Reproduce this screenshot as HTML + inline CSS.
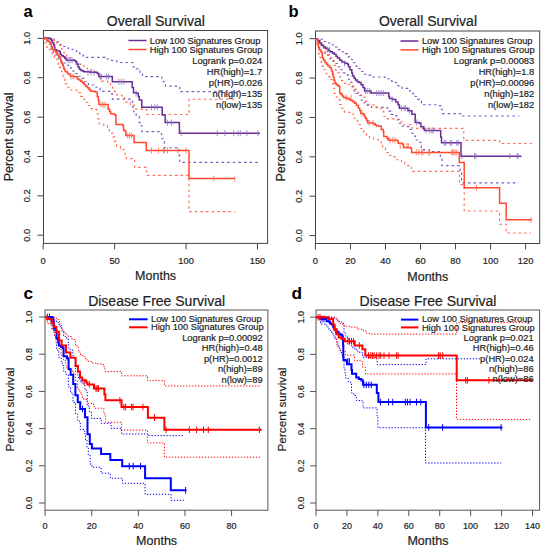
<!DOCTYPE html>
<html><head><meta charset="utf-8"><style>
html,body{margin:0;padding:0;background:#fff;}
svg{display:block;font-family:"Liberation Sans", sans-serif;}
</style></head><body>
<svg width="545" height="550" viewBox="0 0 545 550">
<rect width="545" height="550" fill="#fff"/>
<rect x="43.5" y="30.5" width="224.10" height="212.90" fill="none" stroke="#444" stroke-width="1"/>
<line x1="37.5" y1="235.20" x2="43.5" y2="235.20" stroke="#444" stroke-width="1"/>
<text transform="translate(29.6,235.20) rotate(-90)" text-anchor="middle" font-size="9.3" fill="#222" stroke="#222" stroke-width="0.2">0.0</text>
<line x1="37.5" y1="195.84" x2="43.5" y2="195.84" stroke="#444" stroke-width="1"/>
<text transform="translate(29.6,195.84) rotate(-90)" text-anchor="middle" font-size="9.3" fill="#222" stroke="#222" stroke-width="0.2">0.2</text>
<line x1="37.5" y1="156.48" x2="43.5" y2="156.48" stroke="#444" stroke-width="1"/>
<text transform="translate(29.6,156.48) rotate(-90)" text-anchor="middle" font-size="9.3" fill="#222" stroke="#222" stroke-width="0.2">0.4</text>
<line x1="37.5" y1="117.12" x2="43.5" y2="117.12" stroke="#444" stroke-width="1"/>
<text transform="translate(29.6,117.12) rotate(-90)" text-anchor="middle" font-size="9.3" fill="#222" stroke="#222" stroke-width="0.2">0.6</text>
<line x1="37.5" y1="77.76" x2="43.5" y2="77.76" stroke="#444" stroke-width="1"/>
<text transform="translate(29.6,77.76) rotate(-90)" text-anchor="middle" font-size="9.3" fill="#222" stroke="#222" stroke-width="0.2">0.8</text>
<line x1="37.5" y1="38.40" x2="43.5" y2="38.40" stroke="#444" stroke-width="1"/>
<text transform="translate(29.6,38.40) rotate(-90)" text-anchor="middle" font-size="9.3" fill="#222" stroke="#222" stroke-width="0.2">1.0</text>
<line x1="43.20" y1="243.4" x2="43.20" y2="249.4" stroke="#444" stroke-width="1"/>
<text x="43.20" y="263.8" text-anchor="middle" font-size="9.3" fill="#222" stroke="#222" stroke-width="0.2">0</text>
<line x1="114.64" y1="243.4" x2="114.64" y2="249.4" stroke="#444" stroke-width="1"/>
<text x="114.64" y="263.8" text-anchor="middle" font-size="9.3" fill="#222" stroke="#222" stroke-width="0.2">50</text>
<line x1="186.07" y1="243.4" x2="186.07" y2="249.4" stroke="#444" stroke-width="1"/>
<text x="186.07" y="263.8" text-anchor="middle" font-size="9.3" fill="#222" stroke="#222" stroke-width="0.2">100</text>
<line x1="257.50" y1="243.4" x2="257.50" y2="249.4" stroke="#444" stroke-width="1"/>
<text x="257.50" y="263.8" text-anchor="middle" font-size="9.3" fill="#222" stroke="#222" stroke-width="0.2">150</text>
<text transform="translate(13.2,136.9) rotate(-90)" text-anchor="middle" font-size="12.5" fill="#222" stroke="#222" stroke-width="0.2">Percent survival</text>
<text x="155.6" y="280.3" text-anchor="middle" font-size="12.5" fill="#222" stroke="#222" stroke-width="0.2">Months</text>
<text x="155.8" y="25.8" text-anchor="middle" font-size="14.0" fill="#222" stroke="#222" stroke-width="0.2">Overall Survival</text>
<text x="23.6" y="17.4" font-size="16.5" font-weight="bold" fill="#000">a</text>
<path d="M43.2 38.4H50.0V38.9H52.0V39.4H54.3V40.5H56.0V41.8H58.2V43.2H60.0V44.8H62.0V46.5H65.0V48.0H68.6V49.3H73.0V49.8H76.3V51.5H78.0V52.6H79.6V53.7H81.0V54.8H82.9V55.9H86.2V57.4H105.0V59.0H111.7V60.5H116.8V62.5H132.9V67.0H134.5V68.0H136.1V68.9H138.0V70.8H140.0V72.8H142.5V76.6H161.8V78.5H163.2V81.7H165.4V86.1H179.7V91.6H242.0" fill="none" stroke="#7d55c0" stroke-width="1.1" stroke-dasharray="2.5 3.1"/>
<path d="M43.2 38.4H45.0V40.0H47.0V41.5H48.8V43.2H50.0V45.5H51.0V48.2H52.0V50.5H53.2V53.1H56.0V56.4H58.7V58.6H60.5V61.0H62.0V63.0H65.3V65.2H68.6V67.4H71.0V69.5H73.0V71.3H75.8V73.5H77.4V76.2H80.7V78.4H84.0V81.7H86.0V83.5H88.4V85.0H95.0V87.2H98.5V88.0H100.1V91.4H110.4V92.7H111.7V93.9H112.3V99.1H132.2V102.1H132.8V107.2H133.5V111.7H136.0V114.9H139.3V117.5H139.3V122.6H141.2V125.8H141.8V131.6H159.9V131.6H161.2V133.5H161.7V138.8H164.3V142.5H164.3V147.7H179.1V155.4H179.7V162.4H259.0" fill="none" stroke="#7d55c0" stroke-width="1.1" stroke-dasharray="2.5 3.1"/>
<path d="M43.2 38.4H52.1V38.8H54.0V40.5H56.5V42.7H58.0V44.0H59.8V45.4H61.0V48.5H62.0V52.0H64.2V53.7H66.4V55.9H68.5V57.8H70.8V59.7H74.1V61.9H77.4V64.1H80.7V65.8H84.0V68.0H87.3V69.6H91.2V71.3H95.0V72.9H98.3V75.1H100.0V78.0H101.4V81.1H107.8V82.4H110.4V85.0H112.5V88.0H114.3V91.4H116.8V95.2H122.0V96.5H124.5V100.4H125.8V102.1H130.3V104.6H134.1V109.1H145.7V109.8H147.0V114.5H189.0V99.2H234.8" fill="none" stroke="#ff6a50" stroke-width="1.1" stroke-dasharray="2.5 3.1"/>
<path d="M43.2 38.4H44.0V43.0H46.6V47.1H49.4V49.8H50.8V52.5H52.1V55.3H54.3V58.6H57.1V61.9H58.2V64.5H59.3V67.4H60.5V69.5H61.5V71.8H63.1V77.3H64.8V83.9H67.0V87.2H69.7V90.0H76.7V92.6H80.5V96.4H83.0V99.3H85.7V102.2H88.0V105.5H90.8V108.6H96.0V109.9H97.2V113.8H97.9V118.9H99.2V124.0H103.7V125.3H107.5V128.5H109.4V133.0H112.7V136.9H114.6V141.4H116.5V146.5H120.4V148.4H122.9V149.7H124.9V154.2H126.4V158.6H134.7V167.4H146.8V175.4H189.0V211.6H234.8" fill="none" stroke="#ff6a50" stroke-width="1.1" stroke-dasharray="2.5 3.1"/>
<path d="M43.2 38.4H44.2V37.9H49.3V38.8H51.5V40.6H52.3V42.8H53.7V45.0H54.5V47.6H54.8V49.8H56.7V50.9H59.6V52.0H60.3V54.2H61.4V55.7H63.3V56.8H64.8V58.2H66.2V60.2H74.3V60.5H75.4V61.5H76.5V64.1H78.0V67.0H79.4V69.2H81.0V70.5H83.0V71.2H84.0V71.8H90.0V72.3H97.0V72.9H97.6V73.4H98.9V76.6H112.3V81.7H132.2V87.5H133.5V92.7H136.7V93.3H138.3V96.5H139.3V100.1H141.8V101.4H141.8V107.2H162.2V114.9H165.2V122.6H179.4V133.2H260.0" fill="none" stroke="#6a2f96" stroke-width="1.5"/>
<path d="M100.1 73.6V79.6M101.4 73.6V79.6M106.6 73.6V79.6M108.5 73.6V79.6M118.8 78.7V84.7M121.3 78.7V84.7M123.9 78.7V84.7M136.1 90.3V96.3M151.5 104.2V110.2M154.7 104.2V110.2M157.2 104.2V110.2M167.5 119.6V125.6M171.4 119.6V125.6M181.2 130.2V136.2M217.2 130.2V136.2M224.9 130.2V136.2M233.7 130.2V136.2M238.0 130.2V136.2M240.3 130.2V136.2M246.9 130.2V136.2M257.9 130.2V136.2M68.0 57.3V63.3M70.0 57.3V63.3M72.0 57.3V63.3M88.0 69.5V75.5M91.0 69.5V75.5M94.0 69.5V75.5" fill="none" stroke="#8a6cc8" stroke-width="0.8"/>
<path d="M43.2 38.4H46.4V39.9H47.9V41.3H49.3V42.1H50.4V44.3H51.5V46.8H52.3V49.4H54.1V50.5H55.6V52.0H56.7V53.4H57.8V54.9H58.9V56.8H60.0V58.6H60.7V60.8H61.4V63.0H62.6V64.8H63.3V67.0H64.0V69.2H65.1V71.4H67.0V72.2H67.7V74.0H70.3V76.2H74.1V76.8H77.4V79.0H79.0V80.0H80.7V81.2H82.3V82.8H84.0V84.5H85.6V86.2H87.3V87.8H89.0V89.5H90.6V91.3H95.0V91.9H97.2V96.4H98.3V100.0H98.9V104.5H108.2V109.3H109.5V111.5H110.7V113.8H114.6V115.0H115.9V124.5H122.9V125.5H123.5V129.7H124.5V131.0H125.8V135.5H134.1V142.5H146.3V150.4H189.0V178.6H234.8" fill="none" stroke="#ff4a30" stroke-width="1.5"/>
<path d="M127.7 132.5V138.5M129.6 132.5V138.5M131.6 132.5V138.5M151.5 147.4V153.4M158.5 147.4V153.4M163.7 147.4V153.4M164.3 147.4V153.4M167.5 147.4V153.4M177.8 147.4V153.4M186.1 147.4V153.4M213.8 175.6V181.6M234.8 175.6V181.6M71.0 73.5V79.5M73.0 73.5V79.5M101.0 101.6V107.6M103.0 101.6V107.6M105.0 101.6V107.6" fill="none" stroke="#ff6a50" stroke-width="0.8"/>
<line x1="128.4" y1="40.5" x2="146.5" y2="40.5" stroke="#6a2f96" stroke-width="1.5"/>
<text x="149.8" y="43.8" font-size="9.3" fill="#222" stroke="#222" stroke-width="0.2">Low 100 Signatures Group</text>
<line x1="128.4" y1="49.5" x2="146.5" y2="49.5" stroke="#ff4a30" stroke-width="1.5"/>
<text x="149.8" y="52.7" font-size="9.3" fill="#222" stroke="#222" stroke-width="0.2">High 100 Signatures Group</text>
<text x="262.3" y="63.8" text-anchor="end" font-size="9.3" fill="#222" stroke="#222" stroke-width="0.2">Logrank p=0.024</text>
<text x="262.3" y="74.8" text-anchor="end" font-size="9.3" fill="#222" stroke="#222" stroke-width="0.2">HR(high)=1.7</text>
<text x="262.3" y="86" text-anchor="end" font-size="9.3" fill="#222" stroke="#222" stroke-width="0.2">p(HR)=0.026</text>
<text x="262.3" y="97" text-anchor="end" font-size="9.3" fill="#222" stroke="#222" stroke-width="0.2">n(high)=135</text>
<text x="262.3" y="107.9" text-anchor="end" font-size="9.3" fill="#222" stroke="#222" stroke-width="0.2">n(low)=135</text>
<rect x="315.5" y="31.0" width="224.20" height="212.50" fill="none" stroke="#444" stroke-width="1"/>
<line x1="309.5" y1="235.60" x2="315.5" y2="235.60" stroke="#444" stroke-width="1"/>
<text transform="translate(301.8,235.60) rotate(-90)" text-anchor="middle" font-size="9.3" fill="#222" stroke="#222" stroke-width="0.2">0.0</text>
<line x1="309.5" y1="196.22" x2="315.5" y2="196.22" stroke="#444" stroke-width="1"/>
<text transform="translate(301.8,196.22) rotate(-90)" text-anchor="middle" font-size="9.3" fill="#222" stroke="#222" stroke-width="0.2">0.2</text>
<line x1="309.5" y1="156.84" x2="315.5" y2="156.84" stroke="#444" stroke-width="1"/>
<text transform="translate(301.8,156.84) rotate(-90)" text-anchor="middle" font-size="9.3" fill="#222" stroke="#222" stroke-width="0.2">0.4</text>
<line x1="309.5" y1="117.46" x2="315.5" y2="117.46" stroke="#444" stroke-width="1"/>
<text transform="translate(301.8,117.46) rotate(-90)" text-anchor="middle" font-size="9.3" fill="#222" stroke="#222" stroke-width="0.2">0.6</text>
<line x1="309.5" y1="78.08" x2="315.5" y2="78.08" stroke="#444" stroke-width="1"/>
<text transform="translate(301.8,78.08) rotate(-90)" text-anchor="middle" font-size="9.3" fill="#222" stroke="#222" stroke-width="0.2">0.8</text>
<line x1="309.5" y1="38.70" x2="315.5" y2="38.70" stroke="#444" stroke-width="1"/>
<text transform="translate(301.8,38.70) rotate(-90)" text-anchor="middle" font-size="9.3" fill="#222" stroke="#222" stroke-width="0.2">1.0</text>
<line x1="315.40" y1="243.5" x2="315.40" y2="249.5" stroke="#444" stroke-width="1"/>
<text x="315.40" y="264.0" text-anchor="middle" font-size="9.3" fill="#222" stroke="#222" stroke-width="0.2">0</text>
<line x1="350.43" y1="243.5" x2="350.43" y2="249.5" stroke="#444" stroke-width="1"/>
<text x="350.43" y="264.0" text-anchor="middle" font-size="9.3" fill="#222" stroke="#222" stroke-width="0.2">20</text>
<line x1="385.47" y1="243.5" x2="385.47" y2="249.5" stroke="#444" stroke-width="1"/>
<text x="385.47" y="264.0" text-anchor="middle" font-size="9.3" fill="#222" stroke="#222" stroke-width="0.2">40</text>
<line x1="420.50" y1="243.5" x2="420.50" y2="249.5" stroke="#444" stroke-width="1"/>
<text x="420.50" y="264.0" text-anchor="middle" font-size="9.3" fill="#222" stroke="#222" stroke-width="0.2">60</text>
<line x1="455.54" y1="243.5" x2="455.54" y2="249.5" stroke="#444" stroke-width="1"/>
<text x="455.54" y="264.0" text-anchor="middle" font-size="9.3" fill="#222" stroke="#222" stroke-width="0.2">80</text>
<line x1="490.57" y1="243.5" x2="490.57" y2="249.5" stroke="#444" stroke-width="1"/>
<text x="490.57" y="264.0" text-anchor="middle" font-size="9.3" fill="#222" stroke="#222" stroke-width="0.2">100</text>
<line x1="525.60" y1="243.5" x2="525.60" y2="249.5" stroke="#444" stroke-width="1"/>
<text x="525.60" y="264.0" text-anchor="middle" font-size="9.3" fill="#222" stroke="#222" stroke-width="0.2">120</text>
<text transform="translate(285.4,137.1) rotate(-90)" text-anchor="middle" font-size="12.5" fill="#222" stroke="#222" stroke-width="0.2">Percent survival</text>
<text x="427.8" y="280.5" text-anchor="middle" font-size="12.5" fill="#222" stroke="#222" stroke-width="0.2">Months</text>
<text x="428.0" y="26.0" text-anchor="middle" font-size="14.0" fill="#222" stroke="#222" stroke-width="0.2">Overall Survival</text>
<text x="288.5" y="17.4" font-size="16.5" font-weight="bold" fill="#000">b</text>
<path d="M315.4 38.7H321.0V39.3H324.3V41.5H328.7V43.0H332.0V44.8H335.3V47.0H338.2V49.6H341.5V51.8H345.6V53.6H348.1V56.9H351.4V59.5H353.3V62.8H356.1V66.4H358.9V68.7H361.6V71.5H364.4V74.2H368.9V75.1H372.6V77.0H385.3V77.5H387.8V78.8H391.7V81.4H395.5V82.7H398.1V85.9H402.0V88.4H409.7V91.0H412.9V93.6H415.2V96.5H417.8V99.4H419.4V101.1H421.5V103.0H423.8V104.8H438.5V105.6H441.4V109.2H442.2V113.6H462.0V116.0H519.3" fill="none" stroke="#7d55c0" stroke-width="1.1" stroke-dasharray="2.5 3.1"/>
<path d="M315.4 38.7H316.5V40.5H318.5V42.0H320.2V43.3H322.1V47.0H324.3V53.2H327.2V54.7H329.4V58.8H331.5V60.5H333.8V61.7H336.0V63.5H338.2V66.8H340.8V69.8H343.3V72.9H347.4V75.1H348.5V79.5H351.0V82.5H352.1V86.9H354.0V90.9H356.2V93.5H359.7V95.5H361.2V100.3H363.8V102.8H367.4V105.4H371.5V107.4H387.0V108.2H388.8V111.1H391.0V114.4H395.8V115.9H397.6V119.2H399.1V123.3H402.0V126.2H407.5V126.6H410.1V129.5H411.9V133.2H414.9V136.4H415.5V140.0H419.4V142.2H421.3V147.4H422.3V149.6H424.6V150.0H429.5V151.6H439.4V152.4H440.3V158.2H441.9V165.6H460.1V173.0H461.6V182.9H518.6" fill="none" stroke="#7d55c0" stroke-width="1.1" stroke-dasharray="2.5 3.1"/>
<path d="M315.4 38.7H318.0V40.5H320.0V42.5H321.3V44.8H323.0V48.0H325.0V51.8H327.6V55.4H330.9V57.7H332.7V61.3H334.2V65.4H335.3V70.1H337.5V72.8H339.7V77.0H341.5V80.6H344.4V83.2H348.5V84.3H351.8V86.1H355.1V89.4H357.9V92.2H360.5V95.1H363.8V97.3H365.6V101.4H367.8V104.3H373.0V105.0H376.6V107.6H380.3V108.7H383.3V111.9H384.0V116.3H387.3V118.9H397.2V120.0H400.9V121.8H403.5V124.7H411.6V128.0H416.7V128.4H463.8V140.4H499.6V143.5H531.8" fill="none" stroke="#ff6a50" stroke-width="1.1" stroke-dasharray="2.5 3.1"/>
<path d="M315.4 38.7H316.0V42.0H317.0V47.0H318.4V53.6H319.9V57.3H321.0V62.0H321.7V66.1H323.5V69.8H326.1V73.7H328.6V76.6H330.8V79.5H332.3V83.6H333.4V88.3H334.5V93.5H336.3V97.2H339.3V99.7H339.7V104.5H341.5V108.2H344.4V112.2H350.0V113.5H352.4V114.2H354.2V118.3H357.2V121.2H359.0V124.5H360.8V128.5H363.5V132.0H366.4V134.9H369.4V137.8H373.8V139.3H378.2V140.8H381.1V143.7H382.6V148.1H385.5V152.5H388.4V155.5H392.8V156.9H396.5V159.8H401.5V162.3H404.8V165.6H410.5V167.2H411.4V171.4H459.6V184.6H464.2V211.0H499.6V224.2H506.2V233.0H531.0" fill="none" stroke="#ff6a50" stroke-width="1.1" stroke-dasharray="2.5 3.1"/>
<path d="M315.4 38.7H317.7V40.4H319.5V43.0H321.3V45.2H323.5V47.0H325.7V48.5H327.6V49.6H328.7V50.7H330.1V51.8H332.3V52.9H334.2V54.3H336.0V56.2H337.5V58.0H339.7V60.2H341.9V62.1H344.8V63.2H347.4V64.3H348.5V66.8H350.0V69.8H351.8V72.9H352.5V75.9H354.0V78.1H355.4V79.9H357.3V81.7H358.9V82.5H361.1V84.8H363.0V87.5H364.5V91.0H371.0V93.1H388.8V96.5H389.5V98.5H392.5V99.5H395.8V102.0H398.0V104.5H399.1V106.0H399.4V108.2H407.9V110.8H411.9V114.3H415.2V122.4H419.4V123.2H420.9V126.8H423.8V129.0H424.5V130.5H440.7V137.1H441.5V142.8H461.0V156.2H521.5" fill="none" stroke="#6a2f96" stroke-width="1.5"/>
<path d="M365.5 88.0V94.0M367.2 88.0V94.0M369.4 88.0V94.0M376.7 90.1V96.1M378.9 90.1V96.1M381.1 90.1V96.1M383.3 90.1V96.1M392.1 96.5V102.5M401.3 105.2V111.2M404.2 105.2V111.2M405.7 105.2V111.2M409.4 107.8V113.8M416.7 119.4V125.4M426.0 127.5V133.5M429.7 127.5V133.5M431.9 127.5V133.5M433.3 127.5V133.5M444.4 139.8V145.8M445.8 139.8V145.8M450.2 139.8V145.8M451.7 139.8V145.8M456.8 139.8V145.8M458.3 139.8V145.8M462.0 153.2V159.2M474.5 153.2V159.2M475.9 153.2V159.2M509.8 153.2V159.2M517.1 153.2V159.2M518.1 153.2V159.2M327.6 46.6V52.6M329.5 46.6V52.6M344.5 60.5V66.5" fill="none" stroke="#8a6cc8" stroke-width="0.8"/>
<path d="M315.4 38.7H315.8V39.0H317.3V41.5H318.0V44.1H318.4V47.0H319.5V50.0H321.0V52.1H322.1V55.1H322.4V58.0H323.5V60.2H325.0V62.4H326.5V64.3H327.9V66.1H329.8V67.6H331.2V69.8H332.0V71.8H332.7V74.4H333.4V77.3H334.1V80.3H334.9V83.2H336.3V84.7H337.8V86.1H339.7V92.8H340.8V94.2H342.2V96.1H343.7V97.5H345.9V98.3H348.1V99.0H350.2V100.3H352.4V101.4H354.6V103.2H356.4V105.4H358.3V108.0H359.7V110.6H360.8V113.5H363.4V114.6H364.5V116.8H365.6V118.6H366.7V120.8H367.8V123.0H373.7V123.8H375.2V124.9H376.6V126.0H379.6V126.3H381.3V129.5H383.3V131.7H383.7V136.4H387.0V138.6H388.4V140.2H397.5V141.0H398.2V143.3H402.7V144.5H403.5V147.4H410.8V148.3H411.6V152.4H459.3V162.4H464.2V187.7H499.6V203.2H506.2V219.8H532.0" fill="none" stroke="#ff4a30" stroke-width="1.5"/>
<path d="M346.6 94.6V100.6M351.0 94.6V100.6M361.9 110.5V116.5M369.3 120.0V126.0M373.0 120.0V126.0M389.9 137.2V143.2M392.8 137.2V143.2M395.0 137.2V143.2M400.2 143.0V149.0M406.8 143.0V149.0M408.3 143.0V149.0M416.3 149.4V155.4M418.8 149.4V155.4M421.6 149.4V155.4M422.9 149.4V155.4M428.9 149.4V155.4M429.5 149.4V155.4M451.7 149.4V155.4M452.7 149.4V155.4M453.9 149.4V155.4M455.1 149.4V155.4M456.8 149.4V155.4M476.5 184.7V190.7M531.0 216.8V222.8" fill="none" stroke="#ff6a50" stroke-width="0.8"/>
<line x1="400.5" y1="41.0" x2="418.4" y2="41.0" stroke="#6a2f96" stroke-width="1.5"/>
<text x="421.9" y="44.2" font-size="9.3" fill="#222" stroke="#222" stroke-width="0.2">Low 100 Signatures Group</text>
<line x1="400.5" y1="49.9" x2="418.4" y2="49.9" stroke="#ff4a30" stroke-width="1.5"/>
<text x="421.9" y="53.0" font-size="9.3" fill="#222" stroke="#222" stroke-width="0.2">High 100 Signatures Group</text>
<text x="534.2" y="64.0" text-anchor="end" font-size="9.3" fill="#222" stroke="#222" stroke-width="0.2">Logrank p=0.00083</text>
<text x="534.2" y="75.0" text-anchor="end" font-size="9.3" fill="#222" stroke="#222" stroke-width="0.2">HR(high)=1.8</text>
<text x="534.2" y="86.2" text-anchor="end" font-size="9.3" fill="#222" stroke="#222" stroke-width="0.2">p(HR)=0.00096</text>
<text x="534.2" y="97.2" text-anchor="end" font-size="9.3" fill="#222" stroke="#222" stroke-width="0.2">n(high)=182</text>
<text x="534.2" y="108.2" text-anchor="end" font-size="9.3" fill="#222" stroke="#222" stroke-width="0.2">n(low)=182</text>
<rect x="45.0" y="310.0" width="222.90" height="200.20" fill="none" stroke="#555" stroke-width="1"/>
<line x1="39.0" y1="503.00" x2="45.0" y2="503.00" stroke="#555" stroke-width="1"/>
<text transform="translate(32.2,503.00) rotate(-90)" text-anchor="middle" font-size="9.0" fill="#1e1e1e" stroke="#1e1e1e" stroke-width="0.2">0.0</text>
<line x1="39.0" y1="465.80" x2="45.0" y2="465.80" stroke="#555" stroke-width="1"/>
<text transform="translate(32.2,465.80) rotate(-90)" text-anchor="middle" font-size="9.0" fill="#1e1e1e" stroke="#1e1e1e" stroke-width="0.2">0.2</text>
<line x1="39.0" y1="428.60" x2="45.0" y2="428.60" stroke="#555" stroke-width="1"/>
<text transform="translate(32.2,428.60) rotate(-90)" text-anchor="middle" font-size="9.0" fill="#1e1e1e" stroke="#1e1e1e" stroke-width="0.2">0.4</text>
<line x1="39.0" y1="391.40" x2="45.0" y2="391.40" stroke="#555" stroke-width="1"/>
<text transform="translate(32.2,391.40) rotate(-90)" text-anchor="middle" font-size="9.0" fill="#1e1e1e" stroke="#1e1e1e" stroke-width="0.2">0.6</text>
<line x1="39.0" y1="354.20" x2="45.0" y2="354.20" stroke="#555" stroke-width="1"/>
<text transform="translate(32.2,354.20) rotate(-90)" text-anchor="middle" font-size="9.0" fill="#1e1e1e" stroke="#1e1e1e" stroke-width="0.2">0.8</text>
<line x1="39.0" y1="317.00" x2="45.0" y2="317.00" stroke="#555" stroke-width="1"/>
<text transform="translate(32.2,317.00) rotate(-90)" text-anchor="middle" font-size="9.0" fill="#1e1e1e" stroke="#1e1e1e" stroke-width="0.2">1.0</text>
<line x1="45.10" y1="510.2" x2="45.10" y2="516.2" stroke="#555" stroke-width="1"/>
<text x="45.10" y="529.3" text-anchor="middle" font-size="9.0" fill="#1e1e1e" stroke="#1e1e1e" stroke-width="0.2">0</text>
<line x1="91.72" y1="510.2" x2="91.72" y2="516.2" stroke="#555" stroke-width="1"/>
<text x="91.72" y="529.3" text-anchor="middle" font-size="9.0" fill="#1e1e1e" stroke="#1e1e1e" stroke-width="0.2">20</text>
<line x1="138.34" y1="510.2" x2="138.34" y2="516.2" stroke="#555" stroke-width="1"/>
<text x="138.34" y="529.3" text-anchor="middle" font-size="9.0" fill="#1e1e1e" stroke="#1e1e1e" stroke-width="0.2">40</text>
<line x1="184.96" y1="510.2" x2="184.96" y2="516.2" stroke="#555" stroke-width="1"/>
<text x="184.96" y="529.3" text-anchor="middle" font-size="9.0" fill="#1e1e1e" stroke="#1e1e1e" stroke-width="0.2">60</text>
<line x1="231.58" y1="510.2" x2="231.58" y2="516.2" stroke="#555" stroke-width="1"/>
<text x="231.58" y="529.3" text-anchor="middle" font-size="9.0" fill="#1e1e1e" stroke="#1e1e1e" stroke-width="0.2">80</text>
<text transform="translate(14.3,409.6) rotate(-90)" text-anchor="middle" font-size="11.8" fill="#1e1e1e" stroke="#1e1e1e" stroke-width="0.2">Percent survival</text>
<text x="156.6" y="544.8" text-anchor="middle" font-size="12.5" fill="#1e1e1e" stroke="#1e1e1e" stroke-width="0.2">Months</text>
<text x="156.6" y="305.8" text-anchor="middle" font-size="14.0" fill="#1e1e1e" stroke="#1e1e1e" stroke-width="0.2">Disease Free Survival</text>
<text x="23.6" y="298.6" font-size="17.3" font-weight="bold" fill="#000">c</text>
<path d="M45.1 317.0H49.7V317.5H52.0V319.0H54.8V320.8H56.5V322.5H58.7V324.7H60.3V327.5H61.9V330.5H62.1V331.8H63.6V336.2H65.4V338.1H68.3V340.6H68.3V343.6H68.7V348.3H70.2V349.8H72.8V353.5H72.8V355.7H74.2V359.4H75.3V368.2H75.4V371.6H77.6V374.5H78.0V377.5H79.8V381.1H82.0V383.3H84.2V385.6H85.0V390.3H86.8V391.4H87.2V399.5H87.2V406.0H89.4V406.4H89.4V411.9H91.3V414.8H91.7V418.5H101.2V423.3H111.0V428.4H121.6V434.0H147.7V435.6H183.0" fill="none" stroke="#0000ff" stroke-width="1" stroke-dasharray="1.3 1.7"/>
<path d="M45.1 317.0H47.5V318.0H50.0V321.0H51.0V324.7H52.3V329.8H53.5V332.5H54.8V335.6H55.5V338.5H56.2V343.2H56.6V349.1H57.7V351.3H58.8V355.3H59.2V358.3H61.4V361.6H62.5V363.4H63.2V366.0H63.7V371.2H65.5V372.3H65.9V374.5H68.4V387.0H70.6V392.9H73.0V402.4H75.5V414.1H77.5V415.0H77.7V420.3H79.5V421.4H80.3V429.5H84.3V431.0H84.7V434.0H85.5V440.0H87.0V448.0H88.3V454.9H90.1V464.0H91.9V467.3H101.1V473.2H110.3V478.3H122.5V483.3H145.1V494.3H171.1V500.3H184.0" fill="none" stroke="#0000ff" stroke-width="1" stroke-dasharray="1.3 1.7"/>
<path d="M45.1 317.0H50.0V317.3H54.8V318.0H56.5V319.5H58.5V321.0H59.5V324.0H61.4V330.0H63.6V331.8H65.4V334.4H67.2V336.2H69.8V336.6H72.0V339.5H75.0V341.0H75.5V345.8H77.5V347.2H78.3V350.6H79.4V352.0H80.5V355.3H82.7V356.4H84.5V358.3H86.7V360.1H88.5V361.6H92.0V363.0H95.9V363.9H102.4V364.5H104.1V368.2H105.0V371.5H121.5V375.8H147.5V380.6H164.6V386.0H261.0" fill="none" stroke="#ff0000" stroke-width="1" stroke-dasharray="1.3 1.7"/>
<path d="M45.1 317.0H46.0V319.0H47.3V323.6H50.6V324.0H52.0V330.0H54.4V334.0H54.4V336.2H57.0V340.3H58.0V344.0H59.2V349.1H61.0V354.2H61.7V355.7H63.2V359.4H65.4V363.0H65.8V366.0H66.9V368.2H70.0V371.0H73.0V373.0H75.0V374.5H75.4V380.4H77.6V383.3H77.6V389.2H79.8V390.3H79.8V392.9H82.0V396.2H82.4V399.1H85.0V399.5H87.2V400.6H87.5V403.3H93.5V405.3H94.2V408.2H103.8V414.1H105.2V414.8H105.6V422.2H121.5V430.1H147.5V442.9H164.4V457.2H260.0" fill="none" stroke="#ff0000" stroke-width="1" stroke-dasharray="1.3 1.7"/>
<path d="M45.1 317.0H52.5V318.5H53.2V322.0H53.8V325.0H54.2V328.5H55.5V330.5H56.6V338.2H58.1V341.7H58.8V345.4H61.0V346.9H62.8V348.3H63.6V356.2H66.9V358.3H68.3V359.4H68.6V369.1H70.6V374.7H73.2V383.9H75.4V395.3H77.8V402.2H80.2V409.0H85.0V417.2H87.5V434.3H89.8V444.0H91.9V448.4H101.1V453.9H110.3V460.0H122.2V466.2H145.1V478.3H170.8V490.3H186.5" fill="none" stroke="#0000ff" stroke-width="2"/>
<path d="M47.3 313.7V320.3M49.5 313.7V320.3M82.5 405.7V412.3M129.2 462.9V469.5M133.2 462.9V469.5M140.6 462.9V469.5M185.6 487.0V493.6" fill="none" stroke="#0000ff" stroke-width="1"/>
<path d="M45.1 317.0H47.3V318.9H51.7V323.1H53.8V327.1H56.3V331.8H59.1V340.4H61.6V345.6H66.0V352.6H70.4V357.7H75.6V366.1H77.9V371.4H80.0V377.6H82.2V380.6H86.3V382.5H87.4V384.4H94.0V388.5H104.4V394.4H105.4V400.3H121.5V407.0H147.9V417.7H164.4V429.8H261.7" fill="none" stroke="#ff0000" stroke-width="2"/>
<path d="M84.2 378.7V385.3M89.4 381.1V387.7M96.0 385.2V391.8M97.1 385.2V391.8M98.5 385.2V391.8M119.9 397.0V403.6M123.9 403.7V410.3M125.6 403.7V410.3M131.4 403.7V410.3M133.0 403.7V410.3M142.9 403.7V410.3M154.5 414.4V421.0M166.0 426.5V433.1M189.4 426.5V433.1M196.6 426.5V433.1M203.5 426.5V433.1M208.3 426.5V433.1M259.4 426.5V433.1" fill="none" stroke="#ff0000" stroke-width="1"/>
<line x1="129" y1="319.3" x2="147.6" y2="319.3" stroke="#0000ff" stroke-width="2"/>
<text x="151.0" y="322.0" font-size="9.3" fill="#1e1e1e" stroke="#1e1e1e" stroke-width="0.2">Low 100 Signatures Group</text>
<line x1="129" y1="327.3" x2="147.6" y2="327.3" stroke="#ff0000" stroke-width="2"/>
<text x="151.0" y="330.0" font-size="9.3" fill="#1e1e1e" stroke="#1e1e1e" stroke-width="0.2">High 100 Signatures Group</text>
<text x="262.6" y="340.8" text-anchor="end" font-size="9.3" fill="#1e1e1e" stroke="#1e1e1e" stroke-width="0.2">Logrank p=0.00092</text>
<text x="262.6" y="351.4" text-anchor="end" font-size="9.3" fill="#1e1e1e" stroke="#1e1e1e" stroke-width="0.2">HR(high)=0.48</text>
<text x="262.6" y="362.0" text-anchor="end" font-size="9.3" fill="#1e1e1e" stroke="#1e1e1e" stroke-width="0.2">p(HR)=0.0012</text>
<text x="262.6" y="372.3" text-anchor="end" font-size="9.3" fill="#1e1e1e" stroke="#1e1e1e" stroke-width="0.2">n(high)=89</text>
<text x="262.6" y="382.7" text-anchor="end" font-size="9.3" fill="#1e1e1e" stroke="#1e1e1e" stroke-width="0.2">n(low)=89</text>
<rect x="316.0" y="310.0" width="223.60" height="200.20" fill="none" stroke="#555" stroke-width="1"/>
<line x1="310.0" y1="503.00" x2="316.0" y2="503.00" stroke="#555" stroke-width="1"/>
<text transform="translate(303.8,503.00) rotate(-90)" text-anchor="middle" font-size="9.0" fill="#1e1e1e" stroke="#1e1e1e" stroke-width="0.2">0.0</text>
<line x1="310.0" y1="465.84" x2="316.0" y2="465.84" stroke="#555" stroke-width="1"/>
<text transform="translate(303.8,465.84) rotate(-90)" text-anchor="middle" font-size="9.0" fill="#1e1e1e" stroke="#1e1e1e" stroke-width="0.2">0.2</text>
<line x1="310.0" y1="428.68" x2="316.0" y2="428.68" stroke="#555" stroke-width="1"/>
<text transform="translate(303.8,428.68) rotate(-90)" text-anchor="middle" font-size="9.0" fill="#1e1e1e" stroke="#1e1e1e" stroke-width="0.2">0.4</text>
<line x1="310.0" y1="391.52" x2="316.0" y2="391.52" stroke="#555" stroke-width="1"/>
<text transform="translate(303.8,391.52) rotate(-90)" text-anchor="middle" font-size="9.0" fill="#1e1e1e" stroke="#1e1e1e" stroke-width="0.2">0.6</text>
<line x1="310.0" y1="354.36" x2="316.0" y2="354.36" stroke="#555" stroke-width="1"/>
<text transform="translate(303.8,354.36) rotate(-90)" text-anchor="middle" font-size="9.0" fill="#1e1e1e" stroke="#1e1e1e" stroke-width="0.2">0.8</text>
<line x1="310.0" y1="317.20" x2="316.0" y2="317.20" stroke="#555" stroke-width="1"/>
<text transform="translate(303.8,317.20) rotate(-90)" text-anchor="middle" font-size="9.0" fill="#1e1e1e" stroke="#1e1e1e" stroke-width="0.2">1.0</text>
<line x1="316.00" y1="510.2" x2="316.00" y2="516.2" stroke="#555" stroke-width="1"/>
<text x="316.00" y="529.3" text-anchor="middle" font-size="9.0" fill="#1e1e1e" stroke="#1e1e1e" stroke-width="0.2">0</text>
<line x1="346.93" y1="510.2" x2="346.93" y2="516.2" stroke="#555" stroke-width="1"/>
<text x="346.93" y="529.3" text-anchor="middle" font-size="9.0" fill="#1e1e1e" stroke="#1e1e1e" stroke-width="0.2">20</text>
<line x1="377.86" y1="510.2" x2="377.86" y2="516.2" stroke="#555" stroke-width="1"/>
<text x="377.86" y="529.3" text-anchor="middle" font-size="9.0" fill="#1e1e1e" stroke="#1e1e1e" stroke-width="0.2">40</text>
<line x1="408.78" y1="510.2" x2="408.78" y2="516.2" stroke="#555" stroke-width="1"/>
<text x="408.78" y="529.3" text-anchor="middle" font-size="9.0" fill="#1e1e1e" stroke="#1e1e1e" stroke-width="0.2">60</text>
<line x1="439.71" y1="510.2" x2="439.71" y2="516.2" stroke="#555" stroke-width="1"/>
<text x="439.71" y="529.3" text-anchor="middle" font-size="9.0" fill="#1e1e1e" stroke="#1e1e1e" stroke-width="0.2">80</text>
<line x1="470.64" y1="510.2" x2="470.64" y2="516.2" stroke="#555" stroke-width="1"/>
<text x="470.64" y="529.3" text-anchor="middle" font-size="9.0" fill="#1e1e1e" stroke="#1e1e1e" stroke-width="0.2">100</text>
<line x1="501.57" y1="510.2" x2="501.57" y2="516.2" stroke="#555" stroke-width="1"/>
<text x="501.57" y="529.3" text-anchor="middle" font-size="9.0" fill="#1e1e1e" stroke="#1e1e1e" stroke-width="0.2">120</text>
<line x1="532.50" y1="510.2" x2="532.50" y2="516.2" stroke="#555" stroke-width="1"/>
<text x="532.50" y="529.3" text-anchor="middle" font-size="9.0" fill="#1e1e1e" stroke="#1e1e1e" stroke-width="0.2">140</text>
<text transform="translate(285.7,409.6) rotate(-90)" text-anchor="middle" font-size="11.8" fill="#1e1e1e" stroke="#1e1e1e" stroke-width="0.2">Percent survival</text>
<text x="427.9" y="544.8" text-anchor="middle" font-size="12.5" fill="#1e1e1e" stroke="#1e1e1e" stroke-width="0.2">Months</text>
<text x="428.0" y="305.8" text-anchor="middle" font-size="14.0" fill="#1e1e1e" stroke="#1e1e1e" stroke-width="0.2">Disease Free Survival</text>
<text x="291.4" y="298.6" font-size="17.3" font-weight="bold" fill="#000">d</text>
<path d="M316.0 317.2H328.7V317.3H334.1V317.6H336.3V320.1H339.2V321.5H341.8V322.6H343.3V324.5H344.0V328.1H344.0V333.3H345.8V336.2H347.5V339.0H349.0V342.0H351.0V345.8H352.7V348.2H356.3V350.8H357.8V352.2H362.2V353.7H362.6V357.3H376.6V358.8H377.2V364.6H426.0V358.8H480.0" fill="none" stroke="#0000ff" stroke-width="1" stroke-dasharray="1.3 1.7"/>
<path d="M316.0 317.2H320.1V321.5H320.5V324.1H326.5V325.0H327.1V326.7H328.2V328.9H330.2V330.0H330.4V332.2H332.6V333.3H333.0V335.5H334.0V337.5H334.8V339.5H337.0V342.1H337.8V344.3H338.9V348.0H339.6V350.2H341.0V352.5H342.2V355.5H343.2V360.0H344.0V368.3H345.0V373.0H345.7V378.2H348.2V381.5H350.6V384.0H351.5V393.0H353.9V395.5H356.4V400.5H362.2V402.1H363.0V407.9H376.6V408.7H377.1V416.1H377.9V427.7H425.5V463.0H501.1" fill="none" stroke="#0000ff" stroke-width="1" stroke-dasharray="1.3 1.7"/>
<path d="M316.0 317.2H333.0V317.3H334.4V317.9H336.3V320.1H337.8V321.9H340.3V323.7H342.9V325.2H344.4V326.3H350.5V327.1H357.0V329.2H363.4V331.1H366.6V333.5H369.8V334.1H456.7V322.6H529.0" fill="none" stroke="#ff0000" stroke-width="1" stroke-dasharray="1.3 1.7"/>
<path d="M316.0 317.2H319.0V318.6H328.6V321.5H329.7V323.0H330.8V325.2H332.6V328.1H334.4V331.1H335.2V334.0H335.6V337.7H336.7V342.8H337.0V345.8H338.1V348.0H339.9V350.9H345.3V355.2H354.5V360.7H360.4V361.1H362.2V362.2H362.6V367.3H365.5V373.9H456.5V419.4H530.4" fill="none" stroke="#ff0000" stroke-width="1" stroke-dasharray="1.3 1.7"/>
<path d="M316.0 317.2H320.3V319.0H326.5V321.2H329.5V322.2H330.4V323.7H332.2V324.8H333.3V326.7H334.4V329.6H336.3V331.8H338.5V333.7H340.3V334.8H342.2V336.2H342.8V340.0H343.1V345.3H343.3V357.0H343.5V360.0H346.5V361.5H347.0V364.2H351.5V369.9H352.0V373.8H356.2V377.5H358.9V379.0H361.4V380.6H363.0V384.8H376.8V393.0H378.4V402.1H425.9V427.4H502.4" fill="none" stroke="#0000ff" stroke-width="2"/>
<path d="M322.0 315.7V322.3M324.0 315.7V322.3M347.9 358.2V364.8M349.4 358.2V364.8M363.9 381.5V388.1M366.3 381.5V388.1M368.8 381.5V388.1M371.3 381.5V388.1M380.4 398.8V405.4M388.6 398.8V405.4M392.7 398.8V405.4M405.3 398.8V405.4M407.4 398.8V405.4M410.1 398.8V405.4M416.5 398.8V405.4M420.8 398.8V405.4M428.7 424.1V430.7M442.6 424.1V430.7M501.1 424.1V430.7" fill="none" stroke="#0000ff" stroke-width="1"/>
<path d="M316.0 317.2H328.8V319.1H333.2V324.8H334.6V329.3H336.5V334.3H338.7V337.4H341.4V338.8H344.7V341.3H354.7V345.5H362.4V349.2H365.3V355.6H456.7V380.3H532.6" fill="none" stroke="#ff0000" stroke-width="2"/>
<path d="M318.0 313.9V320.5M320.0 313.9V320.5M347.9 338.0V344.6M349.5 338.0V344.6M351.5 338.0V344.6M353.4 338.0V344.6M359.3 342.2V348.8M368.5 352.3V358.9M370.8 352.3V358.9M372.5 352.3V358.9M374.1 352.3V358.9M376.6 352.3V358.9M379.1 352.3V358.9M380.7 352.3V358.9M384.0 352.3V358.9M389.0 352.3V358.9M396.4 352.3V358.9M398.1 352.3V358.9M438.5 352.3V358.9M440.2 352.3V358.9M442.7 352.3V358.9M465.7 377.0V383.6M467.4 377.0V383.6M488.9 377.0V383.6" fill="none" stroke="#ff0000" stroke-width="1"/>
<line x1="401" y1="319.6" x2="418.4" y2="319.6" stroke="#0000ff" stroke-width="2"/>
<text x="421.9" y="322.4" font-size="9.3" fill="#1e1e1e" stroke="#1e1e1e" stroke-width="0.2">Low 100 Signatures Group</text>
<line x1="401" y1="327.4" x2="418.4" y2="327.4" stroke="#ff0000" stroke-width="2"/>
<text x="421.9" y="330.5" font-size="9.3" fill="#1e1e1e" stroke="#1e1e1e" stroke-width="0.2">High 100 Signatures Group</text>
<text x="533.6" y="340.5" text-anchor="end" font-size="9.3" fill="#1e1e1e" stroke="#1e1e1e" stroke-width="0.2">Logrank p=0.021</text>
<text x="533.6" y="351.4" text-anchor="end" font-size="9.3" fill="#1e1e1e" stroke="#1e1e1e" stroke-width="0.2">HR(high)=0.46</text>
<text x="533.6" y="361.8" text-anchor="end" font-size="9.3" fill="#1e1e1e" stroke="#1e1e1e" stroke-width="0.2">p(HR)=0.024</text>
<text x="533.6" y="372.1" text-anchor="end" font-size="9.3" fill="#1e1e1e" stroke="#1e1e1e" stroke-width="0.2">n(high)=86</text>
<text x="533.6" y="382.4" text-anchor="end" font-size="9.3" fill="#1e1e1e" stroke="#1e1e1e" stroke-width="0.2">n(low)=86</text>
</svg>
</body></html>
